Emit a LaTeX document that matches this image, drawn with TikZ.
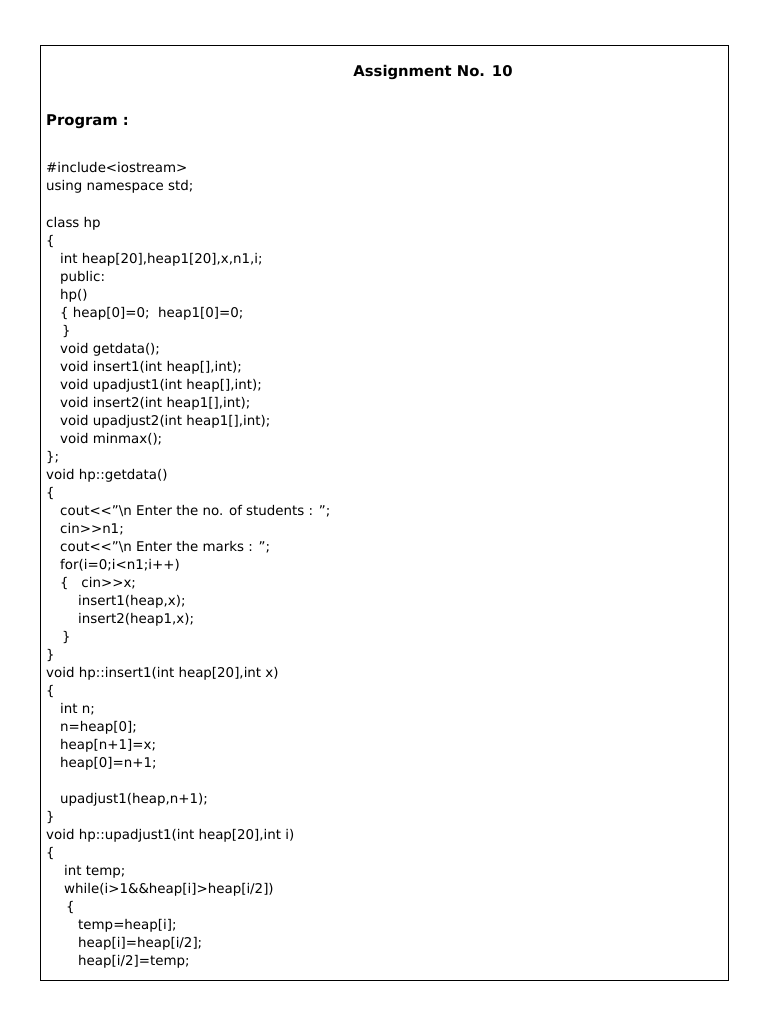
\documentclass[tikz,border=0pt]{standalone}
\usepackage{fontspec}
\setmainfont{DejaVu Sans}[Ligatures=ResetAll]
\newcommand{\qq}{\symbol{34}}
\begin{document}
\begin{tikzpicture}[x=1pt,y=-1pt,
  ln/.style={anchor=base west,inner sep=0pt,font=\fontsize{13.4}{15}\selectfont},
  hd/.style={anchor=base west,inner sep=0pt,font=\fontsize{14.8}{16}\selectfont\bfseries}]
\useasboundingbox (0,0) rectangle (768,1024);
\draw[line width=0.8pt] (40,45) rectangle (728,980);
\node[hd,anchor=base] (t) at (433,77) {Assignment No. 10};
\node[hd] (p) at (46,126) {Program :};
\node[ln] (a1) at (46,173) {\#include<iostream>};
\node[ln] (a2) at (46,191) {using namespace std;};
\node[ln] (a3) at (46,227) {class hp};
\node[ln] (a4) at (46,245) {\{};
\node[ln] (a5) at (60,263) {int heap[20],heap1[20],x,n1,i;};
\node[ln] (a6) at (60,281) {public:};
\node[ln] (a7) at (60,299) {hp()};
\node[ln] (a8) at (60,317) {\{ heap[0]=0;\ \ heap1[0]=0;};
\node[ln] (a9) at (62,335) {\}};
\node[ln] (a10) at (60,353) {void getdata();};
\node[ln] (a11) at (60,371) {void insert1(int heap[],int);};
\node[ln] (a12) at (60,389) {void upadjust1(int heap[],int);};
\node[ln] (a13) at (60,407) {void insert2(int heap1[],int);};
\node[ln] (a14) at (60,425) {void upadjust2(int heap1[],int);};
\node[ln] (a15) at (60,443) {void minmax();};
\node[ln] (a16) at (46,461) {\};};
\node[ln] (a17) at (46,479) {void hp::getdata()};
\node[ln] (a18) at (46,497) {\{};
\node[ln] (a19) at (60,515) {cout<\kern0pt<\qq\textbackslash n Enter the no. of students : \qq;};
\node[ln] (a20) at (60,533) {cin>\kern0pt>n1;};
\node[ln] (a21) at (60,551) {cout<\kern0pt<\qq\textbackslash n Enter the marks : \qq;};
\node[ln] (a22) at (60,569) {for(i=0;i<n1;i++)};
\node[ln] (a23) at (60,587) {\{\ \ \ cin>\kern0pt>x;};
\node[ln] (a24) at (78,605) {insert1(heap,x);};
\node[ln] (a25) at (78,623) {insert2(heap1,x);};
\node[ln] (a26) at (62,641) {\}};
\node[ln] (a27) at (46,659) {\}};
\node[ln] (a28) at (46,677) {void hp::insert1(int heap[20],int x)};
\node[ln] (a29) at (46,695) {\{};
\node[ln] (a30) at (60,713) {int n;};
\node[ln] (a31) at (60,731) {n=heap[0];};
\node[ln] (a32) at (60,749) {heap[n+1]=x;};
\node[ln] (a33) at (60,767) {heap[0]=n+1;};
\node[ln] (a34) at (60,803) {upadjust1(heap,n+1);};
\node[ln] (a35) at (46,821) {\}};
\node[ln] (a36) at (46,839) {void hp::upadjust1(int heap[20],int i)};
\node[ln] (a37) at (46,857) {\{};
\node[ln] (a38) at (64,875) {int temp;};
\node[ln] (a39) at (64,893) {while(i>1\&\&heap[i]>heap[i/2])};
\node[ln] (a40) at (66,911) {\{};
\node[ln] (a41) at (78,929) {temp=heap[i];};
\node[ln] (a42) at (78,947) {heap[i]=heap[i/2];};
\node[ln] (a43) at (78,965) {heap[i/2]=temp;};
\end{tikzpicture}
\end{document}
